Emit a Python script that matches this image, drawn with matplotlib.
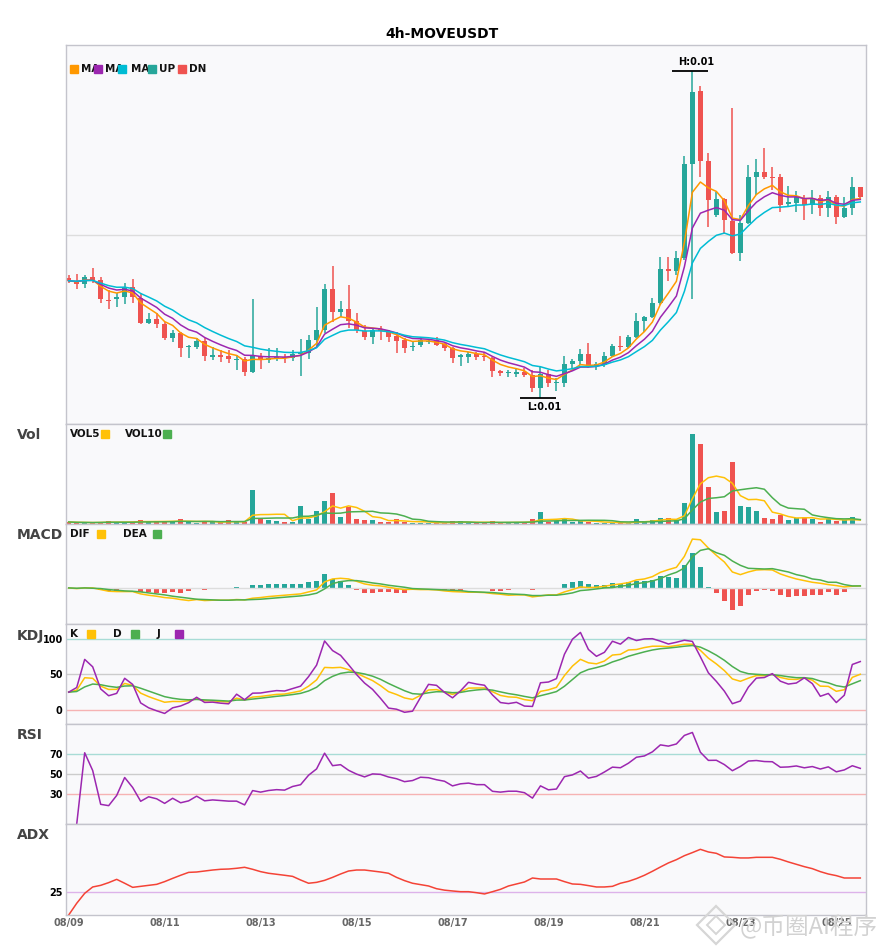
import numpy as np
import pandas as pd
import matplotlib
matplotlib.use('Agg')
import matplotlib.pyplot as plt
from matplotlib.patches import Rectangle
from matplotlib.lines import Line2D

# ---- data (prices in 1e-5 USDT, 4h candles from 08/09) ----
symbol = '4h-MOVEUSDT'
start = '2025-08-09 00:00'
unit = 1e-5

open_e5 = [1057, 1053, 1051, 1058, 1055, 1035, 1036, 1038, 1048, 1037,
           1012, 1016, 1011, 997, 1002, 988, 988, 994, 978, 980,
           979, 975, 976, 963, 979, 975, 976, 978, 977, 981,
           982, 995, 1005, 1046, 1023, 1026, 1014, 1004, 998, 1006,
           1003, 999, 995, 988, 990, 993, 995, 991, 987, 978,
           978, 981, 979, 977, 964, 962, 961, 963, 960, 947,
           961, 952, 952, 971, 974, 981, 969, 970, 979, 989,
           988, 998, 1014, 1018, 1032, 1066, 1064, 1077, 1170, 1243,
           1173, 1120, 1136, 1114, 1082, 1112, 1157, 1162, 1157, 1157,
           1131, 1132, 1137, 1130, 1137, 1127, 1138, 1118, 1127, 1148]
close_e5 = [1054, 1051, 1058, 1055, 1036, 1034, 1038, 1048, 1038, 1012,
            1016, 1011, 997, 1002, 987, 989, 994, 979, 980, 978,
            976, 976, 963, 979, 975, 977, 978, 977, 981, 983,
            995, 1005, 1046, 1023, 1026, 1014, 1005, 998, 1005, 1004,
            998, 994, 987, 989, 995, 994, 990, 987, 977, 980,
            981, 978, 978, 964, 962, 963, 963, 960, 947, 961,
            952, 953, 971, 974, 981, 968, 971, 979, 989, 988,
            998, 1014, 1018, 1032, 1066, 1064, 1077, 1170, 1242, 1173,
            1135, 1136, 1115, 1082, 1112, 1157, 1162, 1157, 1156, 1130,
            1132, 1138, 1130, 1137, 1127, 1138, 1118, 1127, 1148, 1138]
high_e5 = [1060, 1061, 1060, 1067, 1058, 1045, 1042, 1052, 1056, 1042,
           1022, 1022, 1013, 1005, 1003, 990, 997, 997, 988, 985,
           985, 980, 978, 1036, 982, 987, 987, 981, 985, 996,
           1000, 1028, 1051, 1069, 1034, 1050, 1022, 1010, 1007, 1009,
           1005, 1003, 997, 993, 998, 996, 998, 993, 988, 981,
           983, 983, 983, 978, 965, 965, 967, 967, 965, 968,
           965, 957, 979, 976, 986, 992, 973, 983, 991, 999,
           1000, 1022, 1019, 1037, 1078, 1078, 1084, 1178, 1263, 1248,
           1181, 1143, 1137, 1226, 1120, 1169, 1175, 1186, 1167, 1160,
           1149, 1144, 1140, 1145, 1140, 1144, 1140, 1138, 1157, 1148]
low_e5 = [1052, 1046, 1047, 1052, 1032, 1026, 1028, 1031, 1032, 1011,
          1011, 1007, 995, 993, 978, 977, 986, 974, 975, 973,
          972, 965, 959, 962, 966, 972, 974, 972, 974, 959,
          976, 988, 1002, 1013, 1018, 1007, 1002, 995, 991, 995,
          993, 982, 982, 984, 988, 991, 989, 984, 972, 969,
          972, 975, 974, 958, 959, 958, 958, 958, 943, 937,
          948, 944, 948, 967, 970, 967, 965, 968, 978, 984,
          987, 997, 1003, 1017, 1030, 1054, 1060, 1075, 1036, 1157,
          1108, 1118, 1101, 1081, 1074, 1111, 1140, 1155, 1145, 1123,
          1128, 1123, 1115, 1121, 1119, 1118, 1111, 1117, 1120, 1137]
volume_k = [7, 5, 5, 4, 7, 10, 6, 6, 6, 13,
            10, 7, 7, 8, 16, 8, 4, 8, 6, 6,
            13, 6, 8, 103, 16, 14, 10, 7, 7, 55,
            17, 40, 70, 94, 22, 51, 16, 13, 13, 7,
            7, 16, 7, 4, 5, 4, 4, 4, 10, 10,
            4, 3, 4, 10, 5, 5, 5, 5, 16, 37,
            8, 10, 15, 8, 10, 8, 4, 4, 4, 4,
            4, 16, 10, 13, 19, 19, 13, 64, 271, 241,
            112, 37, 40, 187, 55, 52, 41, 19, 16, 28,
            13, 19, 22, 17, 7, 17, 11, 13, 22, 1]

# MACD (x1e-6)
macd_dif = [0, -2, 0, 0, -5, -10, -11, -11, -11, -18,
            -22, -25, -29, -31, -35, -38, -35, -38, -37, -37,
            -37, -35, -36, -31, -29, -26, -24, -22, -20, -18,
            -12, -6, 18, 27, 29, 27, 20, 12, 8, 6,
            2, -2, -5, -4, -5, -5, -6, -9, -11, -12,
            -13, -13, -14, -17, -19, -22, -21, -21, -27, -24,
            -21, -21, -12, -5, 3, 1, 2, 5, 9, 12,
            16, 24, 27, 34, 47, 55, 62, 95, 147, 145,
            120, 98, 78, 48, 40, 48, 54, 55, 54, 42,
            34, 27, 22, 17, 14, 10, 7, 3, 5, 6]
macd_dea = [0, -1, 0, -1, -2, -5, -7, -9, -10, -12,
            -15, -18, -21, -25, -28, -31, -34, -35, -36, -37,
            -37, -36, -36, -35, -34, -32, -30, -28, -26, -24,
            -21, -16, -3, 13, 19, 22, 22, 19, 15, 12,
            8, 5, 2, -2, -3, -4, -5, -6, -7, -8,
            -11, -12, -13, -14, -16, -18, -19, -20, -23, -23,
            -22, -22, -19, -15, -8, -6, -3, 0, 1, 5,
            8, 13, 16, 21, 28, 39, 47, 60, 94, 113,
            118, 106, 98, 81, 68, 59, 58, 57, 58, 53,
            48, 40, 35, 27, 24, 17, 17, 10, 6, 6]
macd_hist = [0, -1, 0, 0, -7, -10, -8, -3, -2, -12,
             -13, -14, -16, -12, -14, -10, -2, -5, -2, 0,
             0, 3, 0, 10, 10, 12, 12, 12, 12, 12,
             18, 21, 43, 28, 20, 9, -5, -14, -14, -12,
             -11, -14, -14, -4, -4, -3, -3, -7, -8, -8,
             -3, -3, -3, -8, -8, -7, -3, -3, -7, 0,
             0, 0, 13, 19, 22, 13, 10, 10, 16, 13,
             17, 22, 22, 25, 37, 32, 30, 70, 106, 64,
             3, -15, -40, -65, -55, -22, -8, -5, -8, -22,
             -28, -25, -25, -20, -20, -13, -20, -13, -1, -1]

# ADX
adx_vals = [0, 12.9, 23.9, 30.9, 32.7, 35.7, 39.3, 35.0, 30.5, 31.6,
            32.7, 33.8, 36.8, 40.4, 43.8, 47.0, 47.4, 48.5, 49.6, 50.4,
            50.7, 51.5, 52.6, 50.4, 47.8, 46.0, 44.9, 43.8, 42.6, 38.6,
            35.0, 36.0, 38.2, 41.5, 45.2, 48.5, 49.6, 49.6, 48.5, 47.4,
            46.0, 41.5, 37.9, 35.0, 33.5, 32.0, 29.0, 27.4, 26.5, 25.7,
            25.7, 24.6, 23.2, 25.7, 28.3, 32.0, 34.2, 36.4, 40.8, 39.7,
            39.7, 39.7, 36.8, 34.2, 33.8, 32.4, 30.9, 30.9, 31.6, 35.0,
            37.1, 40.1, 43.8, 48.2, 52.9, 57.4, 61.0, 65.4, 68.8, 72.4,
            69.5, 68.0, 64.0, 63.6, 62.9, 62.9, 63.6, 63.6, 63.6, 61.4,
            58.5, 55.9, 53.3, 51.1, 47.8, 45.2, 43.4, 40.8, 40.8, 40.8]

UP = '#26a69a'
DN = '#ef5350'
BG = '#f9f9fb'
EDGE = '#c4c4cc'

o = pd.Series(open_e5, dtype=float) * unit
c = pd.Series(close_e5, dtype=float) * unit
h = pd.Series(high_e5, dtype=float) * unit
l = pd.Series(low_e5, dtype=float) * unit
v = pd.Series(volume_k, dtype=float)
n = len(c)
x = np.arange(n)
up = (c >= o).values
colors = np.where(up, UP, DN)

# ---- indicators ----
ma_fast = c.ewm(span=5, adjust=False).mean()
ma_mid = c.ewm(span=8, adjust=False).mean()
ma_slow = c.ewm(span=13, adjust=False).mean()
vol5 = v.rolling(5, min_periods=1).mean()
vol10 = v.rolling(10, min_periods=1).mean()

dif = np.array(macd_dif, dtype=float)
dea = np.array(macd_dea, dtype=float)
hist = np.array(macd_hist, dtype=float)

llv = l.rolling(9, min_periods=1).min()
hhv = h.rolling(9, min_periods=1).max()
rsv = (c - llv) / (hhv - llv) * 100
k = rsv.ewm(com=2, adjust=False).mean()
d = k.ewm(com=2, adjust=False).mean()
j = 3 * k - 2 * d

diff = c.diff()
gain = diff.clip(lower=0).ewm(alpha=1/14).mean()
loss = (-diff.clip(upper=0)).ewm(alpha=1/14).mean()
rsi = 100 - 100 / (1 + gain / loss)

adx = np.array(adx_vals)

# ---- figure ----
W, H = 885, 950
fig = plt.figure(figsize=(W / 100, H / 100), dpi=100)
fig.patch.set_facecolor('white')


def panel(top, bottom):
    ax = fig.add_axes([65.5 / W, 1 - bottom / H, 800 / W, (bottom - top) / H])
    ax.set_facecolor(BG)
    for s in ax.spines.values():
        s.set_color(EDGE)
        s.set_linewidth(1)
    ax.set_xlim(-0.4, n - 0.35)
    ax.set_xticks([])
    ax.tick_params(length=0, pad=2)
    return ax


def fx(px):
    return px / W


def fy(py):
    return 1 - py / H


def square(px, py, color):
    fig.add_artist(Rectangle((fx(px), fy(py + 4)), 8 / W, 8 / H, color=color,
                             transform=fig.transFigure, zorder=5))


def label(px, py, s, **kw):
    fig.text(fx(px), fy(py), s, ha='left', va='center', fontsize=7.5,
             fontweight='bold', color='#111111', **kw)


# main candle panel
ax = panel(45, 424.3)
ax.vlines(x, l, h, colors=colors, lw=1.1, zorder=2)
body = np.maximum((c - o).abs(), 1.2e-5)
ax.bar(x, body, bottom=np.minimum(o, c), width=0.66, color=colors, zorder=2)
ax.plot(x, ma_fast, color='#ff9800', lw=1.1, zorder=3)
ax.plot(x, ma_mid, color='#9c27b0', lw=1.1, zorder=3)
ax.plot(x, ma_slow, color='#00bcd4', lw=1.1, zorder=3)
lo, hi = l.min(), h.max()
pad = 0.08 * (hi - lo)
ax.set_ylim(lo - pad, hi + pad)
ax.set_yticks([0.011])
ax.set_yticklabels([])
ax.grid(axis='y', color='#dddddd', lw=1)
ax.set_axisbelow(True)
ih, il = int(h.idxmax()), int(l.idxmin())
ax.hlines(hi, ih - 2.5, ih + 2, color='black', lw=1.3, zorder=4)
ax.annotate(f'H:{hi:.2f}', (ih + 0.5, hi), xytext=(0, 3), textcoords='offset points',
            ha='center', va='bottom', fontsize=7, fontweight='bold')
ax.hlines(lo, il - 2.5, il + 2, color='black', lw=1.3, zorder=4)
ax.annotate(f'L:{lo:.2f}', (il + 0.5, lo), xytext=(0, -3), textcoords='offset points',
            ha='center', va='top', fontsize=7, fontweight='bold')
fig.text(0.5, fy(34), symbol, ha='center', va='center', fontsize=10, fontweight='bold')

for px, s in [(81, 'MA'), (105, 'MA'), (131, 'MA'), (159, 'UP'), (189, 'DN')]:
    label(px, 69, s)
for px, col in [(70, '#ff9800'), (94, '#9c27b0'), (118, '#00bcd4'), (148, UP), (178, DN)]:
    square(px, 69, col)

# volume
av = panel(424.3, 524.3)
av.bar(x, v, width=0.7, color=colors)
av.plot(x, vol5, color='#ffc107', lw=1.1)
av.plot(x, vol10, color='#4caf50', lw=1.1)
av.set_ylim(0, v.max() * 1.11)
av.set_yticks([])

# MACD
am = panel(524.3, 624.3)
am.axhline(0, color='#dddddd', lw=1)
am.bar(x, hist, width=0.7, color=np.where(hist >= 0, UP, DN))
am.plot(x, dif, color='#ffc107', lw=1.1)
am.plot(x, dea, color='#4caf50', lw=1.1)
mlo = min(dif.min(), dea.min(), hist.min())
mhi = max(dif.max(), dea.max(), hist.max())
mp = 0.21 * (mhi - mlo)
am.set_ylim(mlo - mp, mhi + mp)
am.set_yticks([])

# KDJ
ak = panel(624.3, 724.3)
ak.axhline(100, color='#a8dcd6', lw=1)
ak.axhline(50, color='#cccccc', lw=1)
ak.axhline(0, color='#f6b3b3', lw=1)
ak.plot(x, k, color='#ffc107', lw=1.1)
ak.plot(x, d, color='#4caf50', lw=1.1)
ak.plot(x, j, color='#9c27b0', lw=1.1)
ak.set_ylim(-20, 120)
ak.set_yticks([0, 50, 100], ['0', '50', '100'], fontsize=7, fontweight='bold')

# RSI
ar = panel(724.3, 824.3)
ar.axhline(70, color='#a8dcd6', lw=1)
ar.axhline(50, color='#cccccc', lw=1)
ar.axhline(30, color='#f6b3b3', lw=1)
ar.plot(x, rsi, color='#9c27b0', lw=1.1)
ar.set_ylim(0, 100)
ar.set_yticks([30, 50, 70], ['30', '50', '70'], fontsize=7, fontweight='bold')

# ADX
aa = panel(824.3, 915)
aa.axhline(25, color='#ddb3ea', lw=1)
aa.plot(x, adx, color='#f44336', lw=1.1)
aa.set_ylim(0, 100)
aa.set_yticks([25], ['25'], fontsize=7, fontweight='bold')
dates = pd.date_range(start, periods=n, freq='4h')
aa.set_xticks(x[::12], dates[::12].strftime('%m/%d'), fontsize=7,
              fontweight='bold', color='#666666')

# panel titles and legends
for py, s in [(435, 'Vol'), (535, 'MACD'), (636, 'KDJ'), (735, 'RSI'), (835, 'ADX')]:
    fig.text(fx(17), fy(py), s, ha='left', va='center', fontsize=10,
             fontweight='bold', color='#444444')
label(70, 434, 'VOL5')
square(101, 434, '#ffc107')
label(125, 434, 'VOL10')
square(163, 434, '#4caf50')
label(70, 534, 'DIF')
square(97, 534, '#ffc107')
label(123, 534, 'DEA')
square(153, 534, '#4caf50')
label(70, 634, 'K')
square(87, 634, '#ffc107')
label(113, 634, 'D')
square(131, 634, '#4caf50')
label(157, 634, 'J')
square(175, 634, '#9c27b0')

# watermark (logo + handle)
for size, lw in [(19, 1.6), (9, 1.4)]:
    fig.add_artist(Line2D([fx(716)], [fy(925)], marker='D', markersize=size,
                          markerfacecolor='none', markeredgecolor='#d6d6d6',
                          markeredgewidth=lw, transform=fig.transFigure, zorder=6))
fig.text(fx(878), fy(927), '@币圈AI程序', ha='right', va='center', fontsize=17,
         color='#d2d2d2', family=['Noto Sans CJK SC', 'DejaVu Sans'], zorder=6)

fig.savefig('out.png', dpi=100, facecolor='white')
